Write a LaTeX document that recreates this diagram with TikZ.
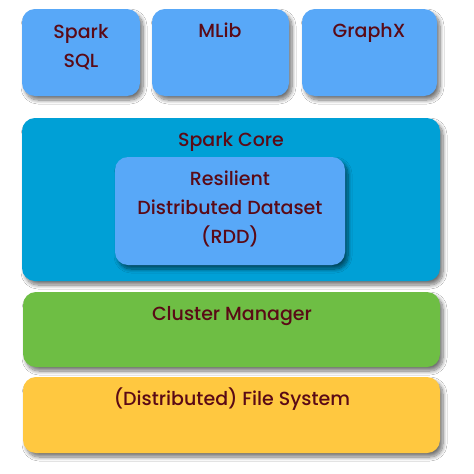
\documentclass[tikz,border=0pt]{standalone}
\usepackage{fontspec}
\setmainfont{Poppins}[BoldFont={Poppins Medium}]
\usetikzlibrary{shadows.blur,positioning}
\definecolor{lblue}{RGB}{88,168,248}
\definecolor{core}{RGB}{0,160,214}
\definecolor{cgreen}{RGB}{110,190,68}
\definecolor{cyellow}{RGB}{255,200,64}
\definecolor{txt}{RGB}{90,10,22}
\begin{document}
\begin{tikzpicture}[x=1pt,y=-1pt,
  layer/.style={rounded corners=13pt, blur shadow={shadow xshift=3pt,shadow yshift=-4pt,shadow blur radius=4pt,shadow blur steps=8,shadow opacity=55}},
  lbl/.style={text=txt, font=\bfseries\fontsize{19}{29}\selectfont, align=center, anchor=base, inner sep=0pt}]
\useasboundingbox[fill=white] (0,0) rectangle (474,474);
\fill[layer,fill=lblue] (22,9) rectangle (140,96);
\fill[layer,fill=lblue] (152,9) rectangle (289,96);
\fill[layer,fill=lblue] (302,9) rectangle (437,96);
\fill[layer,fill=core] (22,118) rectangle (440,281);
\fill[layer,fill=lblue] (115,157) rectangle (345,265);
\fill[layer,fill=cgreen] (23,292) rectangle (440,367);
\fill[layer,fill=cyellow] (23,377) rectangle (440,453);
\node[lbl] (sql) at (81,67) {Spark\\SQL};
\node[lbl] (mlib) at (220,37) {MLib};
\node[lbl] (graphx) at (369,37) {GraphX};
\node[lbl] (core) at (231,146) {Spark Core};
\node[lbl] (rdd) at (230,243) {Resilient\\Distributed Dataset\\(RDD)};
\node[lbl] (cm) at (232,320) {Cluster Manager};
\node[lbl] (fs) at (232,405) {(Distributed) File System};
\end{tikzpicture}
\end{document}
